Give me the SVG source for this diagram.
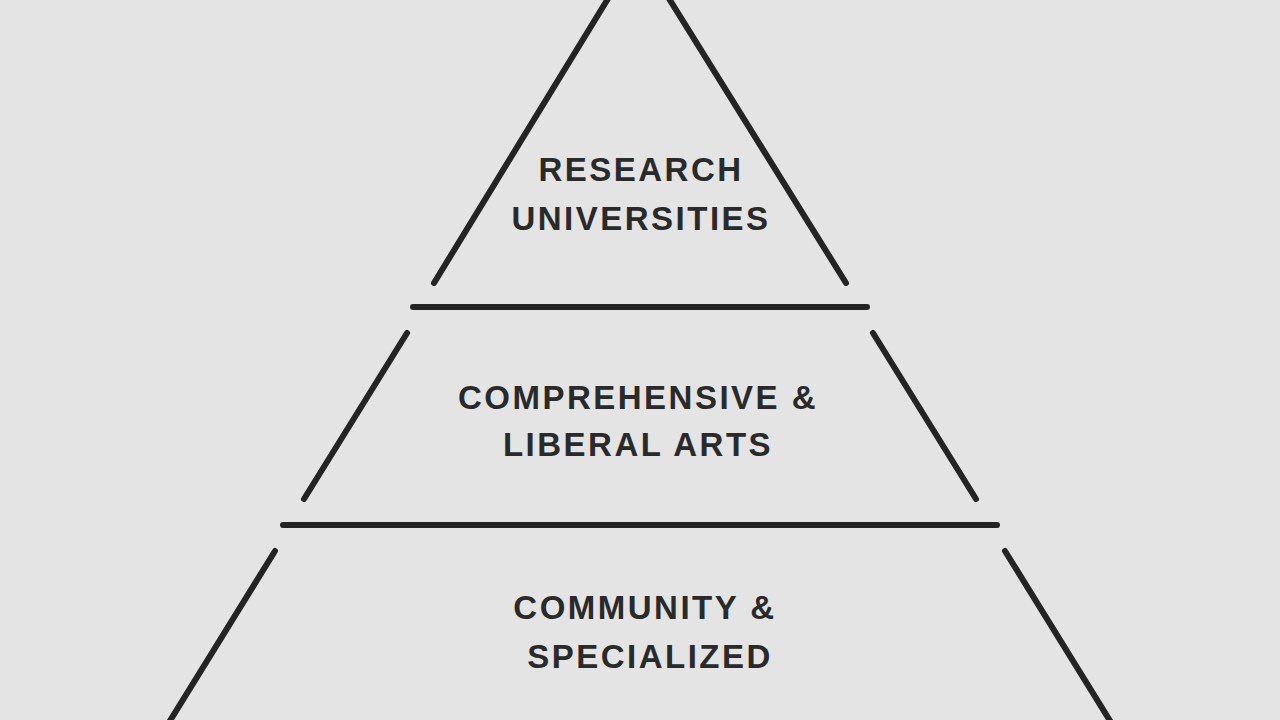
<svg xmlns="http://www.w3.org/2000/svg" width="1280" height="720" viewBox="0 0 1280 720">
<style>
.ln{stroke:#242424;stroke-width:6;stroke-linecap:round;fill:none}
.t{font-family:"Liberation Sans",Arial,sans-serif;font-weight:bold;font-size:33px;fill:#2a2a2a;text-anchor:middle;letter-spacing:2.5px}
</style>
<rect width="1280" height="720" fill="#e4e4e4"/>
<g id="connectors">
<line class="ln" x1="413" y1="307" x2="867" y2="307"/>
<line class="ln" x1="283" y1="525" x2="997" y2="525"/>
</g>
<g id="tier-research">
<line class="ln" x1="609" y1="-3" x2="434" y2="283"/>
<line class="ln" x1="668" y1="-3" x2="846" y2="283"/>
<text class="t" x="641" y="181">RESEARCH</text>
<text class="t" x="641" y="230">UNIVERSITIES</text>
</g>
<g id="tier-comprehensive">
<line class="ln" x1="407" y1="333" x2="304" y2="499"/>
<line class="ln" x1="873" y1="333" x2="976" y2="499"/>
<text class="t" x="638" y="409">COMPREHENSIVE &amp;</text>
<text class="t" x="638" y="456">LIBERAL ARTS</text>
</g>
<g id="tier-community">
<line class="ln" x1="275" y1="551" x2="168" y2="724"/>
<line class="ln" x1="1005" y1="551" x2="1112" y2="724"/>
<text class="t" x="645" y="619">COMMUNITY &amp;</text>
<text class="t" x="650" y="668">SPECIALIZED</text>
</g>
</svg>
